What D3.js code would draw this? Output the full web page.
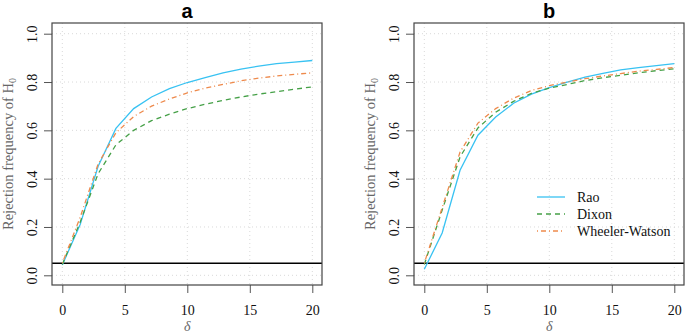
<!DOCTYPE html>
<html><head><meta charset="utf-8">
<script src="https://cdn.jsdelivr.net/npm/d3@7"></script>
<style>body{margin:0;background:#fff}svg{display:block}
.serif{font-family:"Liberation Serif","Times New Roman","DejaVu Serif","Noto Serif",serif !important}
</style>
</head><body>
<script>
const delta = [0, 1.43, 2.86, 4.29, 5.71, 7.14, 8.57, 10, 11.43, 12.86, 14.29, 15.71, 17.14, 18.57, 20];
const raoA = [0.043, 0.21, 0.45, 0.608, 0.69, 0.738, 0.773, 0.798, 0.818, 0.838, 0.853, 0.866, 0.876, 0.882, 0.889];
const dixonA = [0.045, 0.22, 0.42, 0.54, 0.60, 0.64, 0.667, 0.69, 0.708, 0.724, 0.738, 0.75, 0.76, 0.77, 0.78];
const wwA = [0.05, 0.24, 0.46, 0.59, 0.657, 0.70, 0.73, 0.755, 0.775, 0.79, 0.805, 0.816, 0.825, 0.832, 0.838];
const raoB = [0.025, 0.175, 0.435, 0.58, 0.655, 0.712, 0.75, 0.777, 0.80, 0.82, 0.836, 0.85, 0.86, 0.868, 0.876];
const dixonB = [0.045, 0.27, 0.49, 0.61, 0.675, 0.72, 0.753, 0.775, 0.79, 0.806, 0.818, 0.828, 0.838, 0.847, 0.855];
const wwB = [0.05, 0.28, 0.51, 0.63, 0.69, 0.733, 0.765, 0.785, 0.80, 0.814, 0.825, 0.835, 0.845, 0.852, 0.86];
const xTicks = [0, 5, 10, 15, 20];
const yTicks = [0.0, 0.2, 0.4, 0.6, 0.8, 1.0];
const alpha = 0.05;
const panels = ["a", "b"];
const seriesNames = ["Rao", "Dixon", "Wheeler-Watson"];
const colors = ["#38c2f2", "#45a047", "#ee8a4c"];
const dashes = [null, "5,4", "1,3,5,3"];

const W = 685, H = 334;
const svg = d3.select("body").append("svg").attr("width", W).attr("height", H);

const data = [[raoA, dixonA, wwA], [raoB, dixonB, wwB]];
const boxLefts = [52, 414];
const boxW = 270, boxTop = 23, boxBottom = 285;

panels.forEach((p, i) => {
  const L = boxLefts[i];
  const x = d3.scaleLinear().domain([0, 20]).range([L + 10.3, L + 260.3]);
  const y = d3.scaleLinear().domain([0, 1]).range([275.3, 33.7]);
  const g = svg.append("g");
  g.selectAll(".gx").data(xTicks).join("line")
    .attr("x1", d => x(d)).attr("x2", d => x(d)).attr("y1", boxTop).attr("y2", boxBottom)
    .attr("stroke", "#d9d9d9").attr("stroke-width", 1).attr("stroke-dasharray", "1,3");
  g.selectAll(".gy").data(yTicks).join("line")
    .attr("x1", L).attr("x2", L + boxW).attr("y1", d => y(d)).attr("y2", d => y(d))
    .attr("stroke", "#d9d9d9").attr("stroke-width", 1).attr("stroke-dasharray", "1,3");
  const xAxis = d3.axisBottom(x).tickValues(xTicks).tickSize(8).tickPadding(12).tickFormat(d3.format("d"));
  const gx = g.append("g").attr("transform", `translate(0,${boxBottom})`).call(xAxis)
    .attr("font-family", null).attr("font-size", null);
  gx.select(".domain").remove();
  gx.selectAll("line").attr("stroke", "#555");
  gx.selectAll("text").attr("class", "serif").attr("font-size", 14).attr("fill", "#111");
  const yAxis = d3.axisLeft(y).tickValues(yTicks).tickSize(8).tickFormat(d3.format(".1f"));
  const gy = g.append("g").attr("transform", `translate(${L},0)`).call(yAxis)
    .attr("font-family", null).attr("font-size", null);
  gy.select(".domain").remove();
  gy.selectAll("line").attr("stroke", "#555");
  gy.selectAll("text").attr("class", "serif").attr("font-size", 14).attr("fill", "#111")
    .attr("text-anchor", "middle").attr("x", null)
    .attr("transform", "translate(-20,0) rotate(-90)").attr("dy", "0.35em");
  g.append("line").attr("x1", L).attr("x2", L + boxW).attr("y1", y(alpha)).attr("y2", y(alpha))
    .attr("stroke", "#000").attr("stroke-width", 1.4);
  const line = d3.line().x((d, j) => x(delta[j])).y(d => y(d));
  data[i].forEach((s, k) => {
    g.append("path").datum(s).attr("d", line).attr("fill", "none")
      .attr("stroke", colors[k]).attr("stroke-width", 1.3)
      .attr("stroke-dasharray", dashes[k]);
  });
  g.append("rect").attr("x", L).attr("y", boxTop).attr("width", boxW).attr("height", boxBottom - boxTop)
    .attr("fill", "none").attr("stroke", "#444").attr("stroke-width", 1.2);
  g.append("text").attr("x", L + boxW / 2).attr("y", 18).attr("text-anchor", "middle")
    .attr("font-family", "'Liberation Sans', Arial, sans-serif").attr("font-weight", "bold")
    .attr("font-size", 20).text(p);
  g.append("text").attr("x", x(10)).attr("y", 331).attr("text-anchor", "middle").attr("class", "serif")
    .attr("font-style", "italic").attr("font-size", 14).attr("fill", "#666").text("δ");
  const yl = g.append("text").attr("transform", `translate(${L - 39},${(boxTop + boxBottom) / 2}) rotate(-90)`)
    .attr("text-anchor", "middle").attr("class", "serif").attr("font-size", 14.5).attr("fill", "#666");
  yl.append("tspan").text("Rejection frequency of H");
  yl.append("tspan").attr("font-size", 10).attr("dy", 3).text("0");
});

const lg = svg.append("g");
seriesNames.forEach((n, k) => {
  const yy = 197 + k * 17;
  lg.append("line").attr("x1", 537).attr("x2", 565).attr("y1", yy).attr("y2", yy)
    .attr("stroke", colors[k]).attr("stroke-width", 1.3).attr("stroke-dasharray", dashes[k]);
  lg.append("text").attr("x", 577).attr("y", yy).attr("dy", "0.35em").attr("class", "serif")
    .attr("font-size", 14).attr("fill", "#111").text(n);
});
</script>
</body></html>
